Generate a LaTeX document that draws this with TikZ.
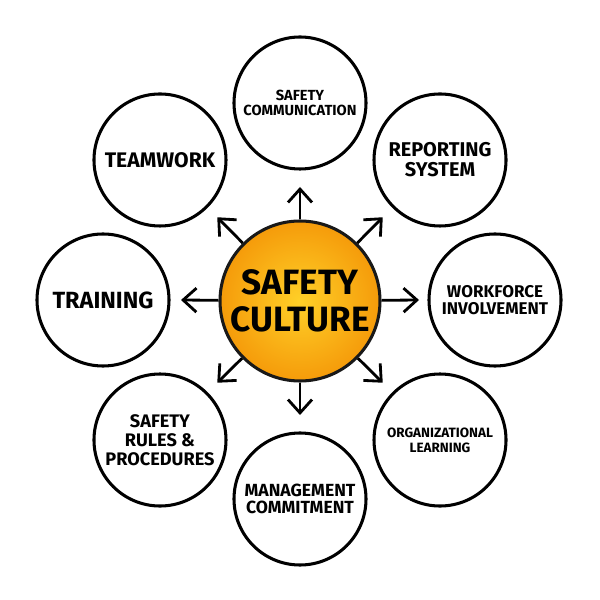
\documentclass[tikz,border=0pt]{standalone}
\usepackage{fontspec}
\setmainfont{Fira Sans}
\usetikzlibrary{arrows.meta}
\definecolor{hubin}{RGB}{255,208,40}
\definecolor{hubout}{RGB}{245,155,10}
\tikzstyle{topic}=[circle,draw=black,line width=2.6pt,fill=white,minimum size=3.96cm,inner sep=0pt,align=center]
\tikzstyle{hub}=[circle,draw=black!90,line width=2.6pt,inner color=hubin,outer color=hubout,minimum size=4.8cm,inner sep=0pt,align=center]
\tikzstyle{spoke}=[line width=2.4pt,-{Straight Barb[length=4mm,width=7.2mm]}]
\newcommand{\fsz}[2]{\bfseries\fontsize{#1}{#2}\selectfont}

\begin{document}
\begin{tikzpicture}[x=0.03cm,y=0.03cm]
\useasboundingbox (-300,-300) rectangle (300,300);
%\draw[help lines] (-300,-300) grid[step=50] (300,300);
\node[hub,font=\fsz{30}{32}] (sc) at (0,-1) {SAFETY\\CULTURE};
\node[topic,font=\fsz{12.5}{13.5}] (comm) at  (90:197) {SAFETY\\COMMUNICATION};
\node[topic,font=\fsz{17}{17}]     (rep)  at  (45:198) {REPORTING\\SYSTEM};
\node[topic,font=\fsz{14.5}{15}]   (work) at   (0:195) {WORKFORCE\\INVOLVEMENT};
\node[topic,font=\fsz{11.5}{13}]   (org)  at (-45:198) {ORGANIZATIONAL\\LEARNING};
\node[topic,font=\fsz{15}{15}]     (mgmt) at (-90:199) {MANAGEMENT\\COMMITMENT};
\node[topic,font=\fsz{15.5}{16}]   (rule) at (-135:198) {SAFETY\\RULES \&\\PROCEDURES};
\node[topic,font=\fsz{20}{20}]     (tra)  at (180:197) {TRAINING};
\node[topic,font=\fsz{18}{18}]     (team) at (135:198) {TEAMWORK};
% arrow ends
\coordinate (e1) at (90:113);
\coordinate (e2) at (45:117);
\coordinate (e3) at (0:119);
\coordinate (e4) at (-45:117);
\coordinate (e5) at (-90:115);
\coordinate (e6) at (-135:117);
\coordinate (e7) at (180:119);
\coordinate (e8) at (135:117);
\path[spoke]
(sc) edge (e1)
     edge (e2)
     edge (e3)
     edge (e4)
     edge (e5)
     edge (e6)
     edge (e7)
     edge (e8);
\end{tikzpicture}
\end{document}
